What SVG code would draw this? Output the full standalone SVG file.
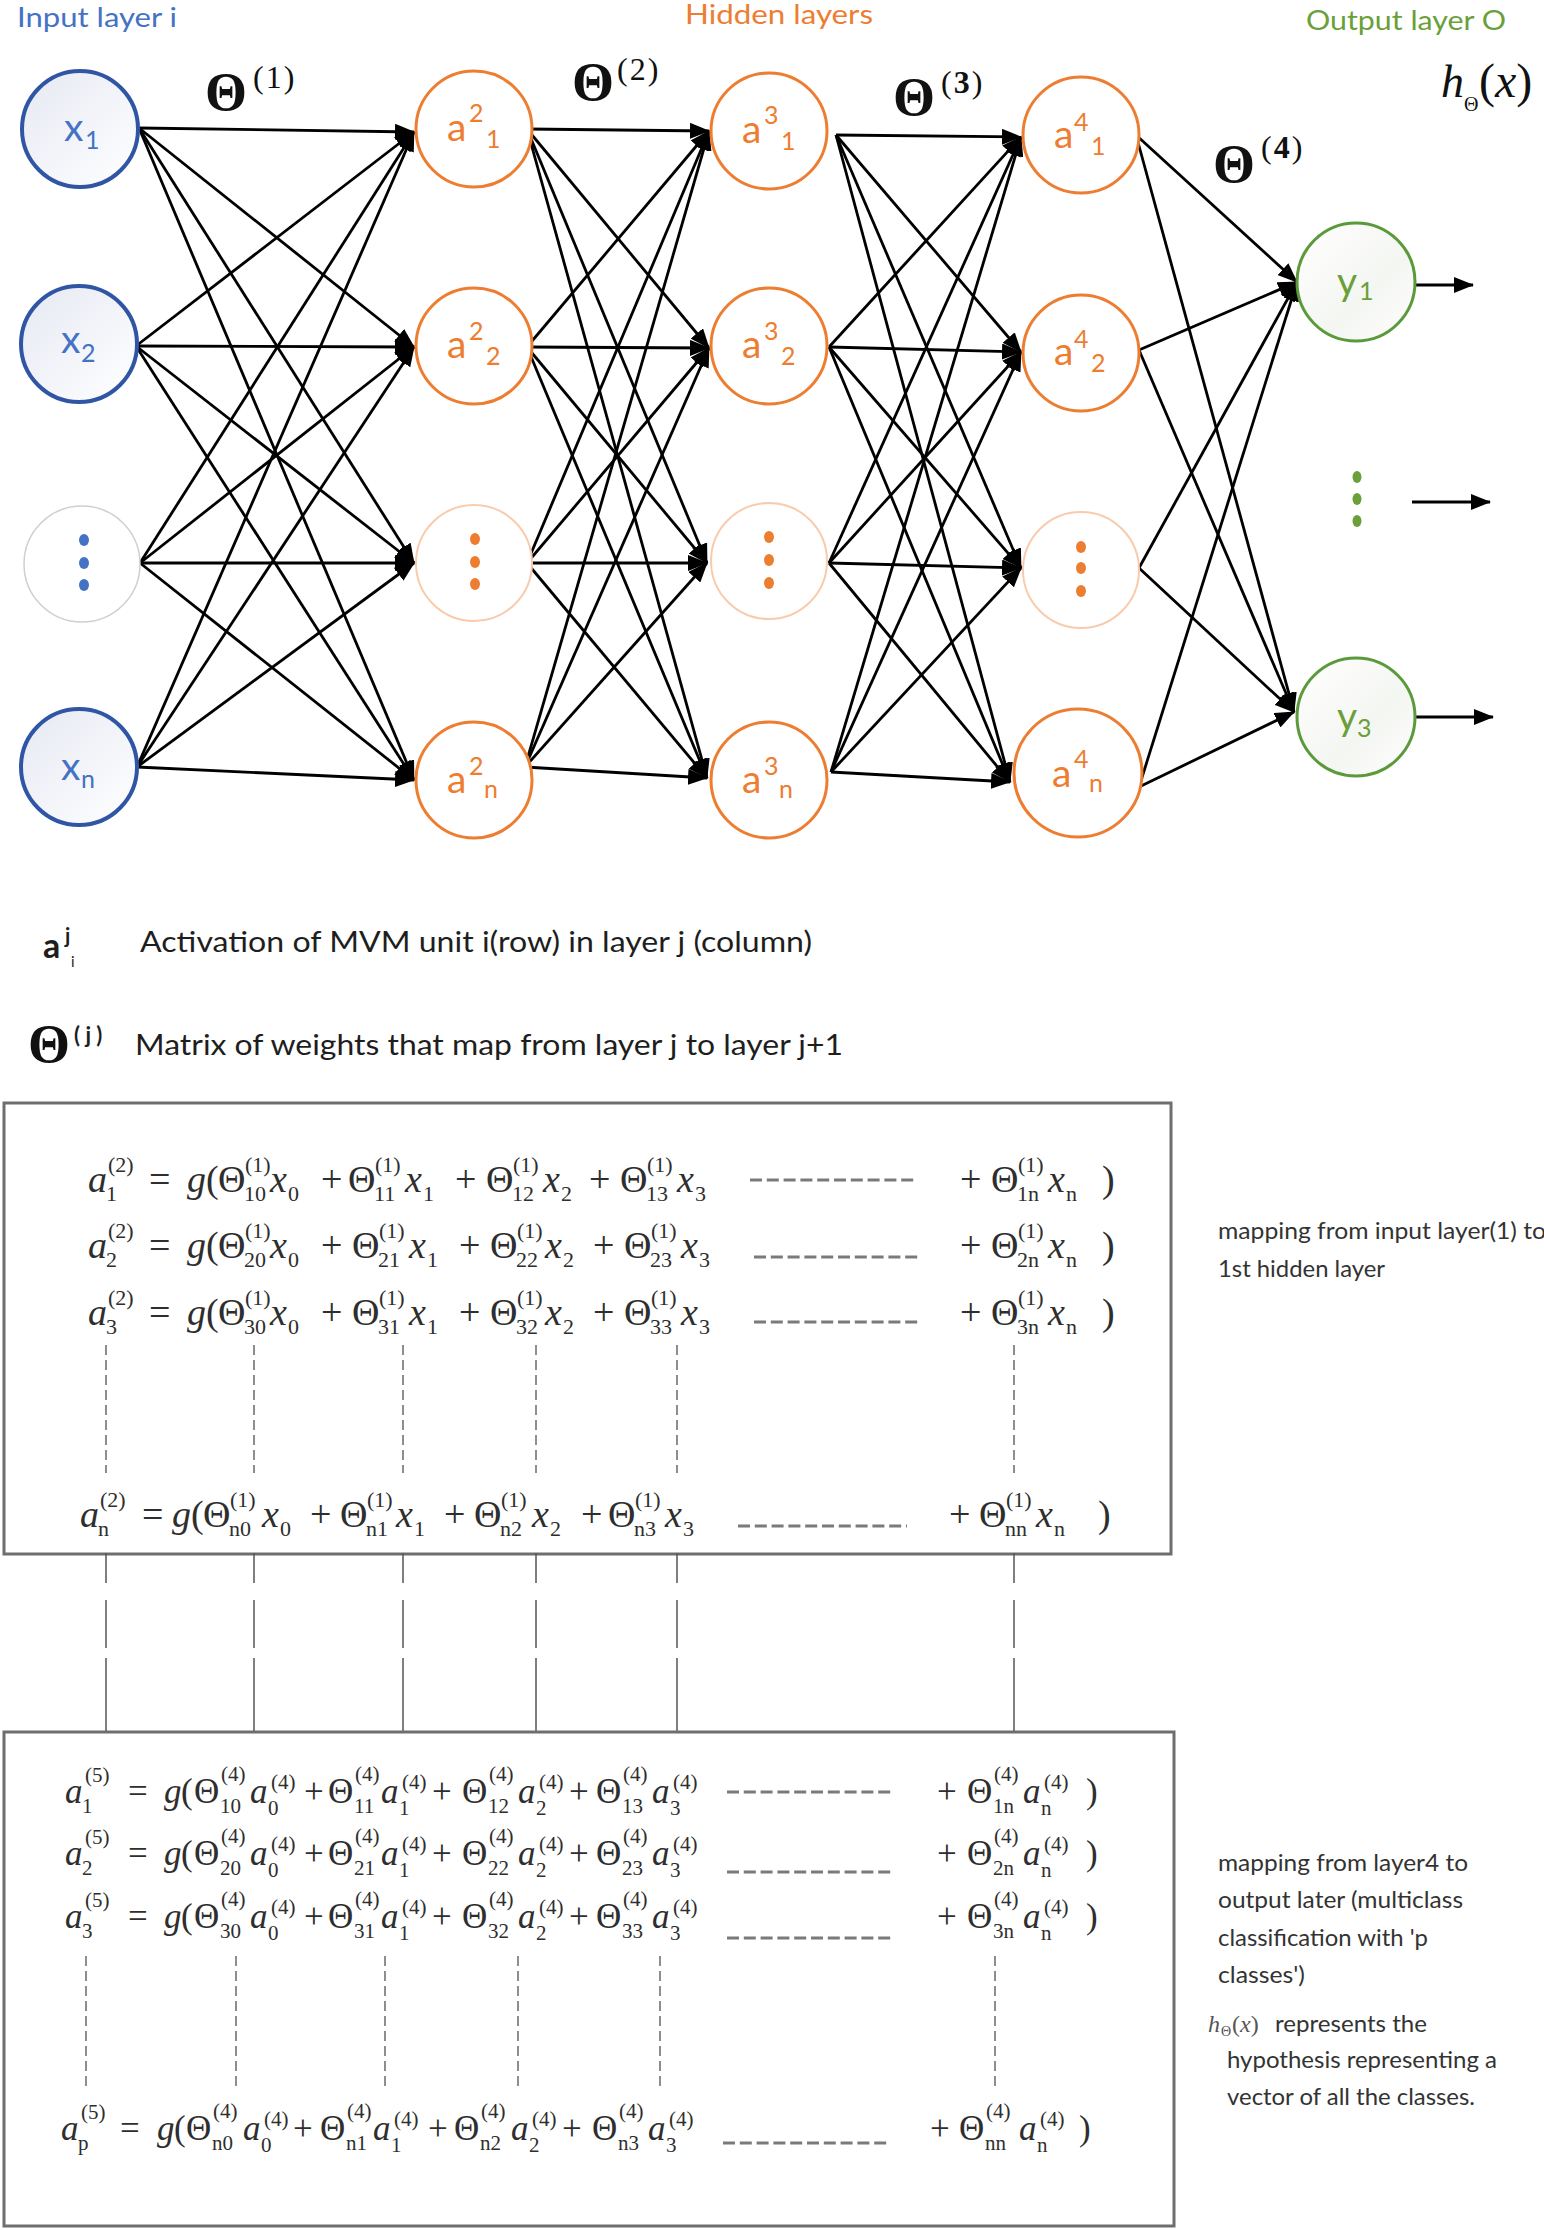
<svg xmlns="http://www.w3.org/2000/svg" width="1544" height="2230" viewBox="0 0 1544 2230">
<style>
.hd{font-family:Lato,"Open Sans","Liberation Sans",sans-serif;font-size:27px}
.nb{fill:url(#gb);stroke:#2F55A4;stroke-width:4}
.no{fill:#fff;stroke:#ED7D31;stroke-width:3}
.nod{fill:#fff;stroke:#F8CBAD;stroke-width:2}
.nid{fill:#fff;stroke:#cfcfcf;stroke-width:1.5}
.ng{fill:url(#gg);stroke:#5B9A3A;stroke-width:3}
.nl{font-family:Lato,"Open Sans","Liberation Sans",sans-serif;font-size:39px}
.ns{font-family:Lato,"Open Sans","Liberation Sans",sans-serif;font-size:25px}
.bl{fill:#4472C4}.or{fill:#ED7D31}.gr{fill:#6A9F3A}
.e{stroke:#000;stroke-width:2.8;fill:none;marker-end:url(#ah)}
.th{font-family:"Liberation Serif","DejaVu Serif",serif;font-weight:bold;font-size:54px;fill:#111}
.ths{font-family:"Liberation Serif","DejaVu Serif",serif;font-size:32px;fill:#111;letter-spacing:2px}
.tx{font-family:Lato,"Open Sans","Liberation Sans",sans-serif;font-size:29px;fill:#1e1e1e}
.sd{font-family:Lato,"Open Sans","Liberation Sans",sans-serif;font-size:24px;fill:#333}
.box{fill:none;stroke:#6e6e6e;stroke-width:3}
.eq{font-family:"Liberation Serif","DejaVu Serif",serif;font-size:38px;fill:#2e2e2e}
.eq2{font-family:"Liberation Serif","DejaVu Serif",serif;font-size:35px;fill:#2e2e2e}
.it{font-style:italic}
.sc{font-size:22px}
.sc2{font-size:21px}
.dl{stroke:#6a6a6a;stroke-width:1.5;stroke-dasharray:10,5}
.vl{stroke:#555;stroke-width:1.5}
.dash{stroke:#7a7a7a;stroke-width:3;stroke-dasharray:12,4.8}
</style>
<defs>
<linearGradient id="gb" x1="0" y1="0" x2="1" y2="1"><stop offset="0" stop-color="#e6e9f3"/><stop offset="1" stop-color="#ffffff"/></linearGradient>
<linearGradient id="gg" x1="0" y1="0" x2="1" y2="1"><stop offset="0" stop-color="#ffffff"/><stop offset="0.6" stop-color="#f4f6f2"/><stop offset="1" stop-color="#ffffff"/></linearGradient>
<marker id="ah" markerUnits="userSpaceOnUse" markerWidth="20" markerHeight="16" viewBox="0 0 20 16" refX="19" refY="8" orient="auto"><path d="M0,0 L20,8 L0,16 z" fill="#000"/></marker>
</defs>
<rect width="1544" height="2230" fill="#fff"/>

<g id="headers">
<text class="hd bl" x="17" y="27" textLength="160" lengthAdjust="spacingAndGlyphs">Input layer i</text>
<text class="hd or" x="685" y="24" textLength="188" lengthAdjust="spacingAndGlyphs">Hidden layers</text>
<text class="hd" x="1306" y="30" fill="#6A9F3A" textLength="200" lengthAdjust="spacingAndGlyphs">Output layer O</text>
<text font-family="Liberation Serif,DejaVu Serif,serif" fill="#111"><tspan x="1441" y="97" font-size="46" font-style="italic">h</tspan><tspan x="1464" y="111" font-size="20">Θ</tspan><tspan x="1479" y="97" font-size="48">(<tspan font-style="italic">x</tspan>)</tspan></text>
</g>

<g id="theta-labels">
<text class="th" x="205" y="110">Θ</text><text class="ths" x="253" y="88">(1)</text>
<text class="th" x="572" y="100">Θ</text><text class="ths" x="617" y="80">(2)</text>
<text class="th" x="893" y="115">Θ</text><text class="ths" x="941" y="93">(<tspan font-weight="bold">3</tspan>)</text>
<text class="th" x="1213" y="182">Θ</text><text class="ths" x="1261" y="158">(<tspan font-weight="bold">4</tspan>)</text>
</g>

<g id="connectors">
<path class="e" d="M139,128L414,132"/><path class="e" d="M139,128L414,347"/><path class="e" d="M139,128L414,563"/><path class="e" d="M139,128L414,780"/>
<path class="e" d="M136,346L414,132"/><path class="e" d="M136,346L414,347"/><path class="e" d="M136,346L414,563"/><path class="e" d="M136,346L414,780"/>
<path class="e" d="M140,563L414,132"/><path class="e" d="M140,563L414,347"/><path class="e" d="M140,563L414,563"/><path class="e" d="M140,563L414,780"/>
<path class="e" d="M137,767L414,132"/><path class="e" d="M137,767L414,347"/><path class="e" d="M137,767L414,563"/><path class="e" d="M137,767L414,780"/>

<path class="e" d="M527,129L709,131"/><path class="e" d="M527,129L709,348"/><path class="e" d="M527,129L707,563"/><path class="e" d="M527,129L707,778"/>
<path class="e" d="M527,347L709,131"/><path class="e" d="M527,347L709,348"/><path class="e" d="M527,347L707,563"/><path class="e" d="M527,347L707,778"/>
<path class="e" d="M527,563L709,131"/><path class="e" d="M527,563L709,348"/><path class="e" d="M527,563L707,563"/><path class="e" d="M527,563L707,778"/>
<path class="e" d="M525,767L709,131"/><path class="e" d="M525,767L709,348"/><path class="e" d="M525,767L707,563"/><path class="e" d="M525,767L707,778"/>

<path class="e" d="M836,135L1021,137"/><path class="e" d="M836,135L1021,352"/><path class="e" d="M836,135L1021,568"/><path class="e" d="M836,135L1010,782"/>
<path class="e" d="M829,347L1021,137"/><path class="e" d="M829,347L1021,352"/><path class="e" d="M829,347L1021,568"/><path class="e" d="M829,347L1010,782"/>
<path class="e" d="M829,563L1021,137"/><path class="e" d="M829,563L1021,352"/><path class="e" d="M829,563L1021,568"/><path class="e" d="M829,563L1010,782"/>
<path class="e" d="M831,772L1021,137"/><path class="e" d="M831,772L1021,352"/><path class="e" d="M831,772L1021,568"/><path class="e" d="M831,772L1010,782"/>

<path class="e" d="M1136,135L1297,282"/><path class="e" d="M1136,135L1294,712"/>
<path class="e" d="M1139,350L1297,282"/><path class="e" d="M1139,350L1294,712"/>
<path class="e" d="M1139,568L1297,282"/><path class="e" d="M1139,568L1294,712"/>
<path class="e" d="M1139,787L1297,282"/><path class="e" d="M1139,787L1294,712"/>

<path class="e" d="M1415,285L1473,285"/>
<path class="e" d="M1412,502L1490,502"/>
<path class="e" d="M1415,717L1493,717"/>
</g>

<g id="node-x1"><circle class="nb" cx="80" cy="129" r="58"/><text class="nl bl" x="64" y="141">x</text><text class="ns bl" x="85" y="149">1</text></g>
<g id="node-x2"><circle class="nb" cx="79" cy="344" r="58"/><text class="nl bl" x="61" y="353">x</text><text class="ns bl" x="81" y="362">2</text></g>
<g id="node-xdots"><circle class="nid" cx="82" cy="564" r="58"/><ellipse class="bl" cx="84" cy="540" rx="5" ry="6"/><ellipse class="bl" cx="84" cy="563" rx="5" ry="6"/><ellipse class="bl" cx="84" cy="585" rx="5" ry="6"/></g>
<g id="node-xn"><circle class="nb" cx="79" cy="767" r="58"/><text class="nl bl" x="61" y="780">x</text><text class="ns bl" x="81" y="788">n</text></g>

<g id="node-a21"><circle class="no" cx="474" cy="129" r="58"/><text class="nl or" x="447" y="141">a</text><text class="ns or" x="469" y="122">2</text><text class="ns or" x="486" y="148">1</text></g>
<g id="node-a22"><circle class="no" cx="474" cy="346" r="58"/><text class="nl or" x="447" y="358">a</text><text class="ns or" x="469" y="340">2</text><text class="ns or" x="486" y="365">2</text></g>
<g id="node-a2dots"><circle class="nod" cx="474" cy="563" r="58"/><ellipse class="or" cx="475" cy="539" rx="5" ry="6"/><ellipse class="or" cx="475" cy="562" rx="5" ry="6"/><ellipse class="or" cx="475" cy="584" rx="5" ry="6"/></g>
<g id="node-a2n"><circle class="no" cx="474" cy="780" r="58"/><text class="nl or" x="447" y="793">a</text><text class="ns or" x="469" y="775">2</text><text class="ns or" x="484" y="798">n</text></g>

<g id="node-a31"><circle class="no" cx="769" cy="131" r="58"/><text class="nl or" x="742" y="143">a</text><text class="ns or" x="764" y="124">3</text><text class="ns or" x="781" y="150">1</text></g>
<g id="node-a32"><circle class="no" cx="769" cy="346" r="58"/><text class="nl or" x="742" y="358">a</text><text class="ns or" x="764" y="340">3</text><text class="ns or" x="781" y="365">2</text></g>
<g id="node-a3dots"><circle class="nod" cx="769" cy="561" r="58"/><ellipse class="or" cx="769" cy="537" rx="5" ry="6"/><ellipse class="or" cx="769" cy="560" rx="5" ry="6"/><ellipse class="or" cx="769" cy="583" rx="5" ry="6"/></g>
<g id="node-a3n"><circle class="no" cx="769" cy="780" r="58"/><text class="nl or" x="742" y="793">a</text><text class="ns or" x="764" y="775">3</text><text class="ns or" x="779" y="798">n</text></g>

<g id="node-a41"><circle class="no" cx="1081" cy="135" r="58"/><text class="nl or" x="1054" y="148">a</text><text class="ns or" x="1074" y="131">4</text><text class="ns or" x="1091" y="155">1</text></g>
<g id="node-a42"><circle class="no" cx="1081" cy="353" r="58"/><text class="nl or" x="1054" y="365">a</text><text class="ns or" x="1074" y="348">4</text><text class="ns or" x="1091" y="372">2</text></g>
<g id="node-a4dots"><circle class="nod" cx="1081" cy="570" r="58"/><ellipse class="or" cx="1081" cy="547" rx="5" ry="6"/><ellipse class="or" cx="1081" cy="568" rx="5" ry="6"/><ellipse class="or" cx="1081" cy="591" rx="5" ry="6"/></g>
<g id="node-a4n"><circle class="no" cx="1078" cy="773" r="64"/><text class="nl or" x="1052" y="787">a</text><text class="ns or" x="1074" y="768">4</text><text class="ns or" x="1089" y="792">n</text></g>

<g id="node-y1"><circle class="ng" cx="1356" cy="282" r="59"/><text class="nl gr" x="1337" y="295" font-size="36">y</text><text class="ns gr" x="1359" y="300">1</text></g>
<g id="node-ydots"><ellipse class="gr" cx="1357" cy="477" rx="4.5" ry="6"/><ellipse class="gr" cx="1357" cy="499" rx="4.5" ry="6"/><ellipse class="gr" cx="1357" cy="521" rx="4.5" ry="6"/></g>
<g id="node-y3"><circle class="ng" cx="1356" cy="717" r="59"/><text class="nl gr" x="1337" y="730" font-size="36">y</text><text class="ns gr" x="1357" y="737">3</text></g>

<g id="legend">
<text font-family="Lato,Open Sans,sans-serif" font-weight="bold" fill="#1e1e1e"><tspan x="43" y="958" font-size="34">a</tspan><tspan x="65" y="943" font-size="21">j</tspan><tspan x="71" y="967" font-size="15" font-weight="normal">i</tspan></text>
<text class="tx" x="140" y="952" textLength="672" lengthAdjust="spacingAndGlyphs">Activation of MVM unit i(row) in layer j (column)</text>
<text class="th" x="28" y="1062" font-size="42">Θ</text><text x="74" y="1043" font-family="Lato,Open Sans,sans-serif" font-size="22" font-weight="bold" fill="#1e1e1e">( j )</text>
<text class="tx" x="135" y="1055" textLength="708" lengthAdjust="spacingAndGlyphs">Matrix of weights that map from layer j to layer j+1</text>
</g>

<g id="box1">
<rect class="box" x="4" y="1103" width="1167" height="451"/>
<text class="eq">
<tspan class="it" x="88" y="1192">a</tspan><tspan class="sc" x="106" y="1201">1</tspan><tspan class="sc" x="108" y="1172">(2)</tspan>
<tspan x="149" y="1192">=</tspan><tspan class="it" x="187" y="1192">g</tspan><tspan x="206" y="1192">(</tspan>
<tspan x="218" y="1192">Θ</tspan><tspan class="sc" x="244" y="1201">10</tspan><tspan class="sc" x="245" y="1172">(1)</tspan>
<tspan class="it" x="270" y="1192">x</tspan><tspan class="sc" x="288" y="1201">0</tspan>
<tspan x="321" y="1192">+</tspan><tspan x="348" y="1192">Θ</tspan><tspan class="sc" x="374" y="1201">11</tspan><tspan class="sc" x="375" y="1172">(1)</tspan>
<tspan class="it" x="405" y="1192">x</tspan><tspan class="sc" x="423" y="1201">1</tspan>
<tspan x="455" y="1192">+</tspan><tspan x="486" y="1192">Θ</tspan><tspan class="sc" x="512" y="1201">12</tspan><tspan class="sc" x="513" y="1172">(1)</tspan>
<tspan class="it" x="543" y="1192">x</tspan><tspan class="sc" x="561" y="1201">2</tspan>
<tspan x="589" y="1192">+</tspan><tspan x="620" y="1192">Θ</tspan><tspan class="sc" x="646" y="1201">13</tspan><tspan class="sc" x="647" y="1172">(1)</tspan>
<tspan class="it" x="677" y="1192">x</tspan><tspan class="sc" x="695" y="1201">3</tspan>
<tspan x="960" y="1192">+</tspan><tspan x="991" y="1192">Θ</tspan><tspan class="sc" x="1017" y="1201">1n</tspan><tspan class="sc" x="1018" y="1172">(1)</tspan>
<tspan class="it" x="1048" y="1192">x</tspan><tspan class="sc" x="1066" y="1201">n</tspan><tspan x="1102" y="1192">)</tspan>
</text>
<line class="dash" x1="750" y1="1180" x2="918" y2="1180"/>
<text class="eq">
<tspan class="it" x="88" y="1258">a</tspan><tspan class="sc" x="106" y="1267">2</tspan><tspan class="sc" x="108" y="1238">(2)</tspan>
<tspan x="149" y="1258">=</tspan><tspan class="it" x="187" y="1258">g</tspan><tspan x="206" y="1258">(</tspan>
<tspan x="218" y="1258">Θ</tspan><tspan class="sc" x="244" y="1267">20</tspan><tspan class="sc" x="245" y="1238">(1)</tspan>
<tspan class="it" x="270" y="1258">x</tspan><tspan class="sc" x="288" y="1267">0</tspan>
<tspan x="321" y="1258">+</tspan><tspan x="352" y="1258">Θ</tspan><tspan class="sc" x="378" y="1267">21</tspan><tspan class="sc" x="379" y="1238">(1)</tspan>
<tspan class="it" x="409" y="1258">x</tspan><tspan class="sc" x="427" y="1267">1</tspan>
<tspan x="459" y="1258">+</tspan><tspan x="490" y="1258">Θ</tspan><tspan class="sc" x="516" y="1267">22</tspan><tspan class="sc" x="517" y="1238">(1)</tspan>
<tspan class="it" x="545" y="1258">x</tspan><tspan class="sc" x="563" y="1267">2</tspan>
<tspan x="593" y="1258">+</tspan><tspan x="624" y="1258">Θ</tspan><tspan class="sc" x="650" y="1267">23</tspan><tspan class="sc" x="651" y="1238">(1)</tspan>
<tspan class="it" x="681" y="1258">x</tspan><tspan class="sc" x="699" y="1267">3</tspan>
<tspan x="960" y="1258">+</tspan><tspan x="991" y="1258">Θ</tspan><tspan class="sc" x="1017" y="1267">2n</tspan><tspan class="sc" x="1018" y="1238">(1)</tspan>
<tspan class="it" x="1048" y="1258">x</tspan><tspan class="sc" x="1066" y="1267">n</tspan><tspan x="1102" y="1258">)</tspan>
</text>
<line class="dash" x1="754" y1="1257" x2="918" y2="1257"/>
<text class="eq">
<tspan class="it" x="88" y="1325">a</tspan><tspan class="sc" x="106" y="1334">3</tspan><tspan class="sc" x="108" y="1305">(2)</tspan>
<tspan x="149" y="1325">=</tspan><tspan class="it" x="187" y="1325">g</tspan><tspan x="206" y="1325">(</tspan>
<tspan x="218" y="1325">Θ</tspan><tspan class="sc" x="244" y="1334">30</tspan><tspan class="sc" x="245" y="1305">(1)</tspan>
<tspan class="it" x="270" y="1325">x</tspan><tspan class="sc" x="288" y="1334">0</tspan>
<tspan x="321" y="1325">+</tspan><tspan x="352" y="1325">Θ</tspan><tspan class="sc" x="378" y="1334">31</tspan><tspan class="sc" x="379" y="1305">(1)</tspan>
<tspan class="it" x="409" y="1325">x</tspan><tspan class="sc" x="427" y="1334">1</tspan>
<tspan x="459" y="1325">+</tspan><tspan x="490" y="1325">Θ</tspan><tspan class="sc" x="516" y="1334">32</tspan><tspan class="sc" x="517" y="1305">(1)</tspan>
<tspan class="it" x="545" y="1325">x</tspan><tspan class="sc" x="563" y="1334">2</tspan>
<tspan x="593" y="1325">+</tspan><tspan x="624" y="1325">Θ</tspan><tspan class="sc" x="650" y="1334">33</tspan><tspan class="sc" x="651" y="1305">(1)</tspan>
<tspan class="it" x="681" y="1325">x</tspan><tspan class="sc" x="699" y="1334">3</tspan>
<tspan x="960" y="1325">+</tspan><tspan x="991" y="1325">Θ</tspan><tspan class="sc" x="1017" y="1334">3n</tspan><tspan class="sc" x="1018" y="1305">(1)</tspan>
<tspan class="it" x="1048" y="1325">x</tspan><tspan class="sc" x="1066" y="1334">n</tspan><tspan x="1102" y="1325">)</tspan>
</text>
<line class="dash" x1="754" y1="1322" x2="918" y2="1322"/>
<line class="dl" x1="106" y1="1345" x2="106" y2="1473"/>
<line class="dl" x1="254" y1="1345" x2="254" y2="1473"/>
<line class="dl" x1="403" y1="1345" x2="403" y2="1473"/>
<line class="dl" x1="536" y1="1345" x2="536" y2="1473"/>
<line class="dl" x1="677" y1="1345" x2="677" y2="1473"/>
<line class="dl" x1="1014" y1="1345" x2="1014" y2="1473"/>
<text class="eq">
<tspan class="it" x="80" y="1527">a</tspan><tspan class="sc" x="98" y="1536">n</tspan><tspan class="sc" x="100" y="1507">(2)</tspan>
<tspan x="142" y="1527">=</tspan><tspan class="it" x="172" y="1527">g</tspan><tspan x="191" y="1527">(</tspan>
<tspan x="203" y="1527">Θ</tspan><tspan class="sc" x="229" y="1536">n0</tspan><tspan class="sc" x="230" y="1507">(1)</tspan>
<tspan class="it" x="262" y="1527">x</tspan><tspan class="sc" x="280" y="1536">0</tspan>
<tspan x="310" y="1527">+</tspan><tspan x="340" y="1527">Θ</tspan><tspan class="sc" x="366" y="1536">n1</tspan><tspan class="sc" x="367" y="1507">(1)</tspan>
<tspan class="it" x="396" y="1527">x</tspan><tspan class="sc" x="414" y="1536">1</tspan>
<tspan x="444" y="1527">+</tspan><tspan x="474" y="1527">Θ</tspan><tspan class="sc" x="500" y="1536">n2</tspan><tspan class="sc" x="501" y="1507">(1)</tspan>
<tspan class="it" x="532" y="1527">x</tspan><tspan class="sc" x="550" y="1536">2</tspan>
<tspan x="581" y="1527">+</tspan><tspan x="608" y="1527">Θ</tspan><tspan class="sc" x="634" y="1536">n3</tspan><tspan class="sc" x="635" y="1507">(1)</tspan>
<tspan class="it" x="665" y="1527">x</tspan><tspan class="sc" x="683" y="1536">3</tspan>
<tspan x="949" y="1527">+</tspan><tspan x="979" y="1527">Θ</tspan><tspan class="sc" x="1005" y="1536">nn</tspan><tspan class="sc" x="1006" y="1507">(1)</tspan>
<tspan class="it" x="1036" y="1527">x</tspan><tspan class="sc" x="1054" y="1536">n</tspan><tspan x="1098" y="1527">)</tspan>
</text>
<line class="dash" x1="738" y1="1526" x2="907" y2="1526"/>
<text class="sd" x="1218" y="1239" textLength="328" lengthAdjust="spacingAndGlyphs">mapping from input layer(1) to</text>
<text class="sd" x="1218" y="1277" textLength="167" lengthAdjust="spacingAndGlyphs">1st hidden layer</text>
</g>

<g id="box-links">
<path class="vl" d="M106,1553V1583M106,1600V1648M106,1658V1731M254,1553V1583M254,1600V1648M254,1658V1731M403,1553V1583M403,1600V1648M403,1658V1731M536,1553V1583M536,1600V1648M536,1658V1731M677,1553V1583M677,1600V1648M677,1658V1731M1014,1553V1583M1014,1600V1648M1014,1658V1731"/>
</g>

<g id="box2">
<rect class="box" x="4" y="1732" width="1170" height="494"/>
<text class="eq2">
<tspan class="it" x="65" y="1803">a</tspan><tspan class="sc2" x="82" y="1813">1</tspan><tspan class="sc2" x="85" y="1782">(5)</tspan>
<tspan x="128" y="1803">=</tspan><tspan class="it" x="164" y="1803">g</tspan><tspan x="181" y="1803">(</tspan>
<tspan x="194" y="1803">Θ</tspan><tspan class="sc2" x="220" y="1813">10</tspan><tspan class="sc2" x="221" y="1781">(4)</tspan>
<tspan class="it" x="250" y="1803">a</tspan><tspan class="sc2" x="268" y="1815">0</tspan><tspan class="sc2" x="271" y="1789">(4)</tspan>
<tspan x="304" y="1803">+</tspan><tspan x="328" y="1803">Θ</tspan><tspan class="sc2" x="354" y="1813">11</tspan><tspan class="sc2" x="355" y="1781">(4)</tspan>
<tspan class="it" x="381" y="1803">a</tspan><tspan class="sc2" x="399" y="1815">1</tspan><tspan class="sc2" x="402" y="1789">(4)</tspan>
<tspan x="432" y="1803">+</tspan><tspan x="462" y="1803">Θ</tspan><tspan class="sc2" x="488" y="1813">12</tspan><tspan class="sc2" x="489" y="1781">(4)</tspan>
<tspan class="it" x="518" y="1803">a</tspan><tspan class="sc2" x="536" y="1815">2</tspan><tspan class="sc2" x="539" y="1789">(4)</tspan>
<tspan x="569" y="1803">+</tspan><tspan x="596" y="1803">Θ</tspan><tspan class="sc2" x="622" y="1813">13</tspan><tspan class="sc2" x="623" y="1781">(4)</tspan>
<tspan class="it" x="652" y="1803">a</tspan><tspan class="sc2" x="670" y="1815">3</tspan><tspan class="sc2" x="673" y="1789">(4)</tspan>
<tspan x="937" y="1803">+</tspan><tspan x="967" y="1803">Θ</tspan><tspan class="sc2" x="993" y="1813">1n</tspan><tspan class="sc2" x="994" y="1781">(4)</tspan>
<tspan class="it" x="1023" y="1803">a</tspan><tspan class="sc2" x="1041" y="1815">n</tspan><tspan class="sc2" x="1044" y="1789">(4)</tspan><tspan x="1086" y="1803">)</tspan>
</text>
<line class="dash" x1="727" y1="1792" x2="895" y2="1792"/>
<text class="eq2">
<tspan class="it" x="65" y="1865">a</tspan><tspan class="sc2" x="82" y="1875">2</tspan><tspan class="sc2" x="85" y="1844">(5)</tspan>
<tspan x="128" y="1865">=</tspan><tspan class="it" x="164" y="1865">g</tspan><tspan x="181" y="1865">(</tspan>
<tspan x="194" y="1865">Θ</tspan><tspan class="sc2" x="220" y="1875">20</tspan><tspan class="sc2" x="221" y="1843">(4)</tspan>
<tspan class="it" x="250" y="1865">a</tspan><tspan class="sc2" x="268" y="1877">0</tspan><tspan class="sc2" x="271" y="1851">(4)</tspan>
<tspan x="304" y="1865">+</tspan><tspan x="328" y="1865">Θ</tspan><tspan class="sc2" x="354" y="1875">21</tspan><tspan class="sc2" x="355" y="1843">(4)</tspan>
<tspan class="it" x="381" y="1865">a</tspan><tspan class="sc2" x="399" y="1877">1</tspan><tspan class="sc2" x="402" y="1851">(4)</tspan>
<tspan x="432" y="1865">+</tspan><tspan x="462" y="1865">Θ</tspan><tspan class="sc2" x="488" y="1875">22</tspan><tspan class="sc2" x="489" y="1843">(4)</tspan>
<tspan class="it" x="518" y="1865">a</tspan><tspan class="sc2" x="536" y="1877">2</tspan><tspan class="sc2" x="539" y="1851">(4)</tspan>
<tspan x="569" y="1865">+</tspan><tspan x="596" y="1865">Θ</tspan><tspan class="sc2" x="622" y="1875">23</tspan><tspan class="sc2" x="623" y="1843">(4)</tspan>
<tspan class="it" x="652" y="1865">a</tspan><tspan class="sc2" x="670" y="1877">3</tspan><tspan class="sc2" x="673" y="1851">(4)</tspan>
<tspan x="937" y="1865">+</tspan><tspan x="967" y="1865">Θ</tspan><tspan class="sc2" x="993" y="1875">2n</tspan><tspan class="sc2" x="994" y="1843">(4)</tspan>
<tspan class="it" x="1023" y="1865">a</tspan><tspan class="sc2" x="1041" y="1877">n</tspan><tspan class="sc2" x="1044" y="1851">(4)</tspan><tspan x="1086" y="1865">)</tspan>
</text>
<line class="dash" x1="727" y1="1872" x2="895" y2="1872"/>
<text class="eq2">
<tspan class="it" x="65" y="1928">a</tspan><tspan class="sc2" x="82" y="1938">3</tspan><tspan class="sc2" x="85" y="1907">(5)</tspan>
<tspan x="128" y="1928">=</tspan><tspan class="it" x="164" y="1928">g</tspan><tspan x="181" y="1928">(</tspan>
<tspan x="194" y="1928">Θ</tspan><tspan class="sc2" x="220" y="1938">30</tspan><tspan class="sc2" x="221" y="1906">(4)</tspan>
<tspan class="it" x="250" y="1928">a</tspan><tspan class="sc2" x="268" y="1940">0</tspan><tspan class="sc2" x="271" y="1914">(4)</tspan>
<tspan x="304" y="1928">+</tspan><tspan x="328" y="1928">Θ</tspan><tspan class="sc2" x="354" y="1938">31</tspan><tspan class="sc2" x="355" y="1906">(4)</tspan>
<tspan class="it" x="381" y="1928">a</tspan><tspan class="sc2" x="399" y="1940">1</tspan><tspan class="sc2" x="402" y="1914">(4)</tspan>
<tspan x="432" y="1928">+</tspan><tspan x="462" y="1928">Θ</tspan><tspan class="sc2" x="488" y="1938">32</tspan><tspan class="sc2" x="489" y="1906">(4)</tspan>
<tspan class="it" x="518" y="1928">a</tspan><tspan class="sc2" x="536" y="1940">2</tspan><tspan class="sc2" x="539" y="1914">(4)</tspan>
<tspan x="569" y="1928">+</tspan><tspan x="596" y="1928">Θ</tspan><tspan class="sc2" x="622" y="1938">33</tspan><tspan class="sc2" x="623" y="1906">(4)</tspan>
<tspan class="it" x="652" y="1928">a</tspan><tspan class="sc2" x="670" y="1940">3</tspan><tspan class="sc2" x="673" y="1914">(4)</tspan>
<tspan x="937" y="1928">+</tspan><tspan x="967" y="1928">Θ</tspan><tspan class="sc2" x="993" y="1938">3n</tspan><tspan class="sc2" x="994" y="1906">(4)</tspan>
<tspan class="it" x="1023" y="1928">a</tspan><tspan class="sc2" x="1041" y="1940">n</tspan><tspan class="sc2" x="1044" y="1914">(4)</tspan><tspan x="1086" y="1928">)</tspan>
</text>
<line class="dash" x1="727" y1="1938" x2="895" y2="1938"/>
<line class="dl" x1="86" y1="1956" x2="86" y2="2088"/>
<line class="dl" x1="236" y1="1956" x2="236" y2="2088"/>
<line class="dl" x1="385" y1="1956" x2="385" y2="2088"/>
<line class="dl" x1="518" y1="1956" x2="518" y2="2088"/>
<line class="dl" x1="660" y1="1956" x2="660" y2="2088"/>
<line class="dl" x1="995" y1="1956" x2="995" y2="2088"/>
<text class="eq2">
<tspan class="it" x="61" y="2140">a</tspan><tspan class="sc2" x="78" y="2150">p</tspan><tspan class="sc2" x="81" y="2119">(5)</tspan>
<tspan x="120" y="2140">=</tspan><tspan class="it" x="157" y="2140">g</tspan><tspan x="174" y="2140">(</tspan>
<tspan x="186" y="2140">Θ</tspan><tspan class="sc2" x="212" y="2150">n0</tspan><tspan class="sc2" x="213" y="2118">(4)</tspan>
<tspan class="it" x="243" y="2140">a</tspan><tspan class="sc2" x="261" y="2152">0</tspan><tspan class="sc2" x="264" y="2126">(4)</tspan>
<tspan x="293" y="2140">+</tspan><tspan x="320" y="2140">Θ</tspan><tspan class="sc2" x="346" y="2150">n1</tspan><tspan class="sc2" x="347" y="2118">(4)</tspan>
<tspan class="it" x="373" y="2140">a</tspan><tspan class="sc2" x="391" y="2152">1</tspan><tspan class="sc2" x="394" y="2126">(4)</tspan>
<tspan x="428" y="2140">+</tspan><tspan x="454" y="2140">Θ</tspan><tspan class="sc2" x="480" y="2150">n2</tspan><tspan class="sc2" x="481" y="2118">(4)</tspan>
<tspan class="it" x="511" y="2140">a</tspan><tspan class="sc2" x="529" y="2152">2</tspan><tspan class="sc2" x="532" y="2126">(4)</tspan>
<tspan x="562" y="2140">+</tspan><tspan x="592" y="2140">Θ</tspan><tspan class="sc2" x="618" y="2150">n3</tspan><tspan class="sc2" x="619" y="2118">(4)</tspan>
<tspan class="it" x="648" y="2140">a</tspan><tspan class="sc2" x="666" y="2152">3</tspan><tspan class="sc2" x="669" y="2126">(4)</tspan>
<tspan x="930" y="2140">+</tspan><tspan x="959" y="2140">Θ</tspan><tspan class="sc2" x="985" y="2150">nn</tspan><tspan class="sc2" x="986" y="2118">(4)</tspan>
<tspan class="it" x="1019" y="2140">a</tspan><tspan class="sc2" x="1037" y="2152">n</tspan><tspan class="sc2" x="1040" y="2126">(4)</tspan><tspan x="1079" y="2140">)</tspan>
</text>
<line class="dash" x1="723" y1="2143" x2="888" y2="2143"/>
<text class="sd" x="1218" y="1871" textLength="250" lengthAdjust="spacingAndGlyphs">mapping from layer4 to</text>
<text class="sd" x="1218" y="1908" textLength="245" lengthAdjust="spacingAndGlyphs">output later (multiclass</text>
<text class="sd" x="1218" y="1946" textLength="210" lengthAdjust="spacingAndGlyphs">classification with 'p</text>
<text class="sd" x="1218" y="1983" textLength="87" lengthAdjust="spacingAndGlyphs">classes')</text>
<text font-family="Liberation Serif,DejaVu Serif,serif" fill="#555"><tspan x="1208" y="2032" font-size="24" font-style="italic">h</tspan><tspan x="1221" y="2036" font-size="14">Θ</tspan><tspan x="1232" y="2032" font-size="24">(<tspan font-style="italic">x</tspan>)</tspan></text>
<text class="sd" x="1275" y="2032" textLength="152" lengthAdjust="spacingAndGlyphs">represents the</text>
<text class="sd" x="1227" y="2068" textLength="270" lengthAdjust="spacingAndGlyphs">hypothesis representing a</text>
<text class="sd" x="1227" y="2105" textLength="248" lengthAdjust="spacingAndGlyphs">vector of all the classes.</text>
</g>
</svg>
